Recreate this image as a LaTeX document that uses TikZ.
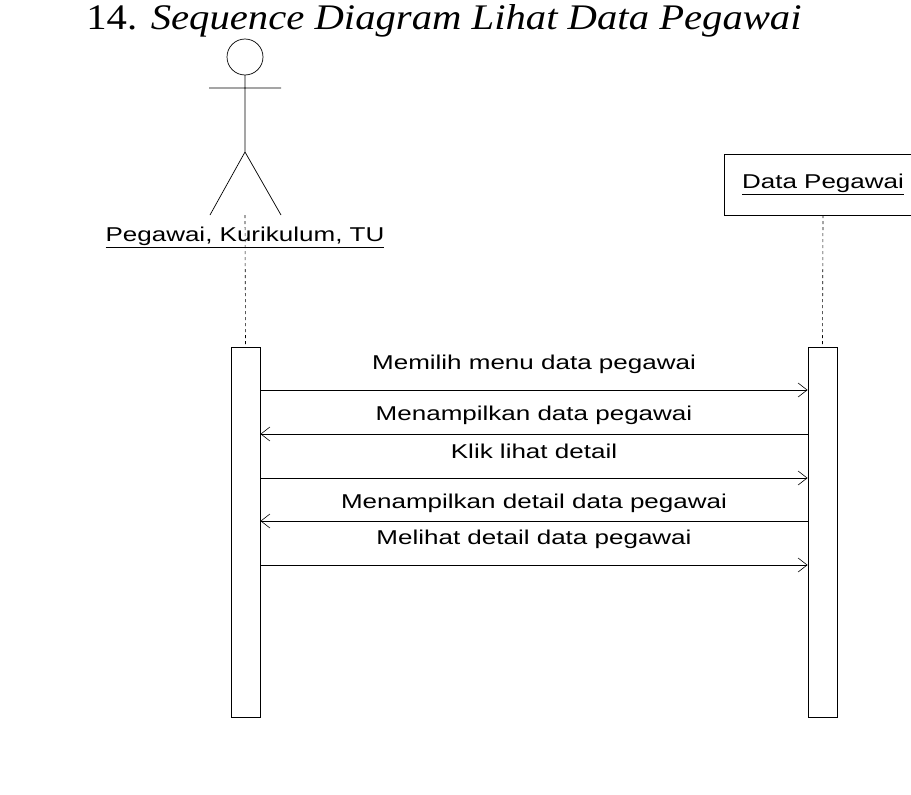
\documentclass[tikz,border=0pt]{standalone}
\usepackage{fontspec}
\setmainfont{Liberation Serif}
\newfontfamily\lsans{Liberation Sans}
\usetikzlibrary{arrows.meta}
\begin{document}
\begin{tikzpicture}[x=1pt,y=-1pt,
  lbl/.style={font=\lsans\fontsize{20}{22}\selectfont,inner sep=0pt,xscale=1.3},
  act/.style={draw,fill=white,line width=0.8pt},
  msg/.style={-{Straight Barb[length=9pt,width=14pt]},line width=0.6pt},
  life/.style={dashed,line width=0.6pt}]
\useasboundingbox (0,0) rectangle (911,795);
\node[inner sep=0pt,anchor=base,xscale=1.13] (title) at (444,29) {\fontsize{36}{40}\selectfont 14. \textit{Sequence Diagram Lihat Data Pegawai}};
% actor
\draw[line width=0.7pt] (245,57) circle (18);
\draw[line width=0.7pt] (245,75) -- (245,152) (209,88) -- (281,88) (210,215) -- (245,152) -- (281,215);
\node[lbl] (actl) at (245,237) {\underline{Pegawai, Kurikulum, TU}};
\coordinate (a0) at (245,215);
\node[act,minimum width=29pt,minimum height=370pt,inner sep=0pt] (A) at (245.5,532) {};
\draw[life] (a0) -- (A.north);
% object
\node[draw,line width=0.7pt,minimum width=187pt,minimum height=61pt,inner sep=0pt] (D) at (817.5,184.5) {};
\node[lbl] (dl) at (823,184) {\underline{Data Pegawai}};
\node[act,minimum width=29pt,minimum height=370pt,inner sep=0pt] (B) at (822.5,532) {};
\draw[life] (823,215) -- (B.north);
% messages
\draw[msg] (A.east |- 0,390) -- (B.west |- 0,390);
\draw[msg] (B.west |- 0,434) -- (A.east |- 0,434);
\draw[msg] (A.east |- 0,478) -- (B.west |- 0,478);
\draw[msg] (B.west |- 0,521) -- (A.east |- 0,521);
\draw[msg] (A.east |- 0,565) -- (B.west |- 0,565);
\node[lbl] (m1) at (534,364) {Memilih menu data pegawai};
\node[lbl] (m2) at (534,415) {Menampilkan data pegawai};
\node[lbl] (m3) at (534,451) {Klik lihat detail};
\node[lbl] (m4) at (534,503) {Menampilkan detail data pegawai};
\node[lbl] (m5) at (534,539) {Melihat detail data pegawai};
\end{tikzpicture}
\end{document}
